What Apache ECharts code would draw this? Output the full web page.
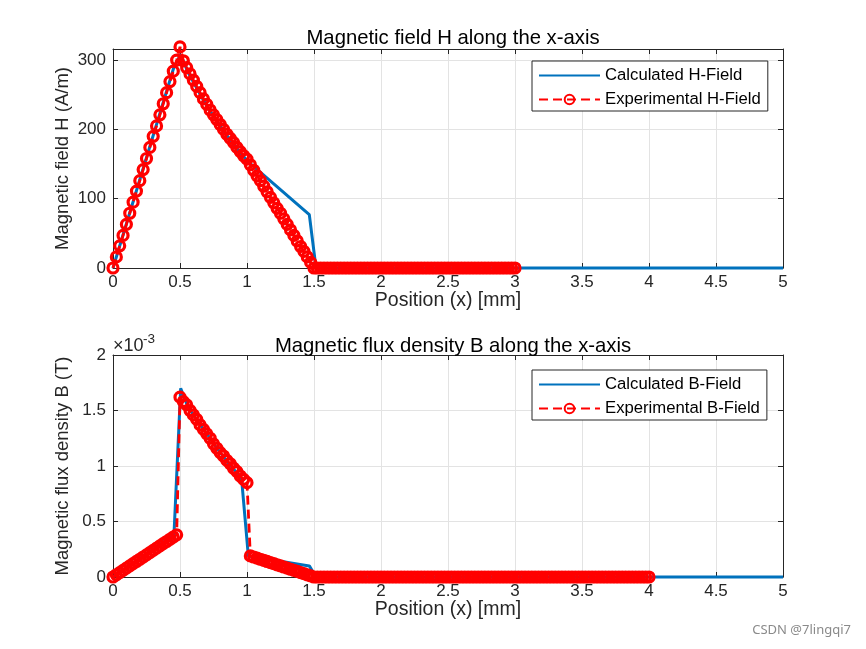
<!DOCTYPE html>
<html>
<head>
<meta charset="utf-8">
<script src="https://cdn.jsdelivr.net/npm/echarts@6/dist/echarts.min.js"></script>
<style>html,body{margin:0;padding:0;background:#fff;}#c{width:866px;height:649px;}</style>
</head>
<body>
<div id="c"></div>
<script>
// ---------- data ----------
const xTicks = [0, 0.5, 1, 1.5, 2, 2.5, 3, 3.5, 4, 4.5, 5];
const expStep = 0.025; // sampling step of experimental data (mm)

// Experimental H (A/m), x = 0, 0.025, ... 3.0
const hExpValues = [
  0,16,32,47,63,79,95,111,126,142,158,174,190,205,221,237,253,269,284,300,
  319,299,289,280,271,262,253,244,236,228,221,214,207,200,193,187,181,174,168,162,
  157,149,141,133,126,118,110,102,94,86,79,71,63,55,47,39,31,24,16,8,
  0,0,0,0,0,0,0,0,0,0,0,0,0,0,0,0,0,0,0,0,
  0,0,0,0,0,0,0,0,0,0,0,0,0,0,0,0,0,0,0,0,
  0,0,0,0,0,0,0,0,0,0,0,0,0,0,0,0,0,0,0,0,
  0
];
// Calculated H (A/m)
const hCalcX = [0, 0.455, 0.505, 0.556, 0.606, 0.657, 0.707, 0.758, 0.808, 0.859, 0.909, 0.960, 1.010, 1.465, 1.515, 5];
const hCalcY = [0, 290, 308, 284, 266, 248, 232, 217, 203, 189, 177, 164, 153, 77, 0, 0];

// Experimental B (x 1e-3 T), x = 0, 0.025, ... 4.0
const bExpMilli = [
  0,0.02,0.04,0.06,0.08,0.10,0.12,0.14,0.16,0.18,0.20,0.22,0.24,0.26,0.28,0.30,0.32,0.34,0.36,0.38,
  1.62,1.58,1.55,1.50,1.46,1.42,1.37,1.33,1.29,1.25,1.20,1.16,1.12,1.09,1.05,1.02,0.98,0.95,0.91,0.88,
  0.85,0.19,0.18,0.17,0.16,0.15,0.14,0.13,0.12,0.11,0.10,0.09,0.08,0.07,0.06,0.05,0.04,0.03,0.02,0.01,
  0,0,0,0,0,0,0,0,0,0,0,0,0,0,0,0,0,0,0,0,
  0,0,0,0,0,0,0,0,0,0,0,0,0,0,0,0,0,0,0,0,
  0,0,0,0,0,0,0,0,0,0,0,0,0,0,0,0,0,0,0,0,
  0,0,0,0,0,0,0,0,0,0,0,0,0,0,0,0,0,0,0,0,
  0,0,0,0,0,0,0,0,0,0,0,0,0,0,0,0,0,0,0,0,
  0
];
// Calculated B (x 1e-3 T)
const bCalcX = [0, 0.455, 0.505, 0.556, 0.606, 0.657, 0.707, 0.758, 0.808, 0.859, 0.909, 0.960, 1.010, 1.465, 1.515, 5];
const bCalcY = [0, 0.38, 1.70, 1.54, 1.45, 1.36, 1.28, 1.19, 1.11, 1.03, 0.96, 0.88, 0.19, 0.10, 0, 0];

const hTicks = [0, 100, 200, 300];
const bTicks = [0, 0.5, 1, 1.5, 2];

// ---------- build ----------
const pairs = (xs, ys) => xs.map((x, i) => [x, ys[i]]);
const stepped = (vals) => vals.map((v, i) => [+(i * expStep).toFixed(4), v]);

const FONT = "'Liberation Sans', Arial, Helvetica, sans-serif";
const AX = '#262626';
const GRIDC = '#e3e3e3';
const BLUE = '#0072BD';
const RED = '#FF0000';

function xAxes(gridIndex) {
  return [{
    type: 'value', gridIndex, min: 0, max: 5, interval: 0.5,
    name: 'Position (x) [mm]', nameLocation: 'middle', nameGap: 23, nameMoveOverlap: false,
    nameTextStyle: { fontFamily: FONT, fontSize: 19.5, color: AX },
    axisLine: { show: true, onZero: false, lineStyle: { color: AX, width: 1 } },
    axisTick: { show: true, inside: true, length: 5, lineStyle: { color: AX } },
    axisLabel: { fontFamily: FONT, fontSize: 17, color: AX, margin: 6,
      formatter: v => String(v) },
    splitLine: { show: true, lineStyle: { color: GRIDC, width: 1 } }
  }, {
    type: 'value', gridIndex, min: 0, max: 5, interval: 0.5, position: 'top',
    axisLine: { show: true, onZero: false, lineStyle: { color: AX, width: 1 } },
    axisTick: { show: true, inside: true, length: 5, lineStyle: { color: AX } },
    axisLabel: { show: false }, splitLine: { show: false }
  }];
}
function yAxes(gridIndex, max, interval, name, fmt) {
  return [{
    type: 'value', gridIndex, min: 0, max, interval,
    name, nameLocation: 'middle', nameGap: 41, nameMoveOverlap: false,
    nameTextStyle: { fontFamily: FONT, fontSize: 18.5, color: AX },
    axisLine: { show: true, onZero: false, lineStyle: { color: AX, width: 1 } },
    axisTick: { show: true, inside: true, length: 5, lineStyle: { color: AX } },
    axisLabel: { fontFamily: FONT, fontSize: 17, color: AX, margin: 7, showMaxLabel: max % interval === 0,
      formatter: fmt },
    splitLine: { show: true, lineStyle: { color: GRIDC, width: 1 } }
  }, {
    type: 'value', gridIndex, min: 0, max, interval, position: 'right',
    axisLine: { show: true, onZero: false, lineStyle: { color: AX, width: 1 } },
    axisTick: { show: true, inside: true, length: 5, lineStyle: { color: AX } },
    axisLabel: { show: false }, splitLine: { show: false }
  }];
}

function calcSeries(name, xi, yi, data) {
  return {
    name, type: 'line', xAxisIndex: xi, yAxisIndex: yi, data,
    showSymbol: false, symbol: 'none', z: 2, clip: false,
    lineStyle: { color: BLUE, width: 3 }, itemStyle: { color: BLUE },
    emphasis: { disabled: true }
  };
}
function expSeries(name, xi, yi, data) {
  return {
    name, type: 'line', xAxisIndex: xi, yAxisIndex: yi, data,
    showSymbol: true, showAllSymbol: true, symbol: 'circle', symbolSize: 10,
    z: 3, clip: false,
    lineStyle: { color: RED, width: 2.8, type: [9, 5] },
    itemStyle: { color: 'rgba(255,255,255,0)', borderColor: RED, borderWidth: 3.2 },
    emphasis: { disabled: true }
  };
}

function legendAt(top, names) {
  return {
    data: [
      { name: names[0], itemStyle: { opacity: 0 } },
      { name: names[1] }
    ],
    orient: 'vertical', left: 532, top,
    backgroundColor: '#fff', borderColor: AX, borderWidth: 1,
    padding: [6, 7, 3, 6], itemGap: 7, itemWidth: 61, itemHeight: 12,
    textStyle: { fontFamily: FONT, fontSize: 16.7, color: '#000' },
    selectedMode: false
  };
}

const option = {
  animation: false,
  backgroundColor: '#fff',
  title: [
    { text: 'Magnetic field H along the x-axis', left: 448, textAlign: 'center', top: 23,
      textStyle: { fontFamily: FONT, fontSize: 20.3, fontWeight: 'normal', color: '#000' } },
    { text: 'Magnetic flux density B along the x-axis', left: 448, textAlign: 'center', top: 331,
      textStyle: { fontFamily: FONT, fontSize: 20.3, fontWeight: 'normal', color: '#000' } }
  ],
  grid: [
    { left: 113, top: 49, width: 670, height: 219 },
    { left: 113, top: 355, width: 670, height: 222 }
  ],
  xAxis: [...xAxes(0), ...xAxes(1)],
  yAxis: [
    ...yAxes(0, 316, 100, 'Magnetic field H (A/m)', v => String(v)),
    ...yAxes(1, 2, 0.5, 'Magnetic flux density B (T)', v => String(v))
  ],
  legend: [
    legendAt(61, ['Calculated H-Field', 'Experimental H-Field']),
    legendAt(370, ['Calculated B-Field', 'Experimental B-Field'])
  ],
  series: [
    calcSeries('Calculated H-Field', 0, 0, pairs(hCalcX, hCalcY)),
    expSeries('Experimental H-Field', 0, 0, stepped(hExpValues)),
    calcSeries('Calculated B-Field', 2, 2, pairs(bCalcX, bCalcY)),
    expSeries('Experimental B-Field', 2, 2, stepped(bExpMilli))
  ],
  graphic: [
    { type: 'text', left: 113, top: 337, style: { text: '×10', fontFamily: FONT, fontSize: 18, fill: AX } },
    { type: 'text', left: 143, top: 332, style: { text: '-3', fontFamily: FONT, fontSize: 13.5, fill: AX } },
    { type: 'text', right: 15, top: 624, style: { text: 'CSDN @7lingqi7', fontFamily: 'Noto Sans, sans-serif', fontSize: 13, fill: '#8a8a8a' } }
  ]
};

const chart = echarts.init(document.getElementById('c'), null, { renderer: 'canvas' });
chart.setOption(option);
</script>
</body>
</html>
